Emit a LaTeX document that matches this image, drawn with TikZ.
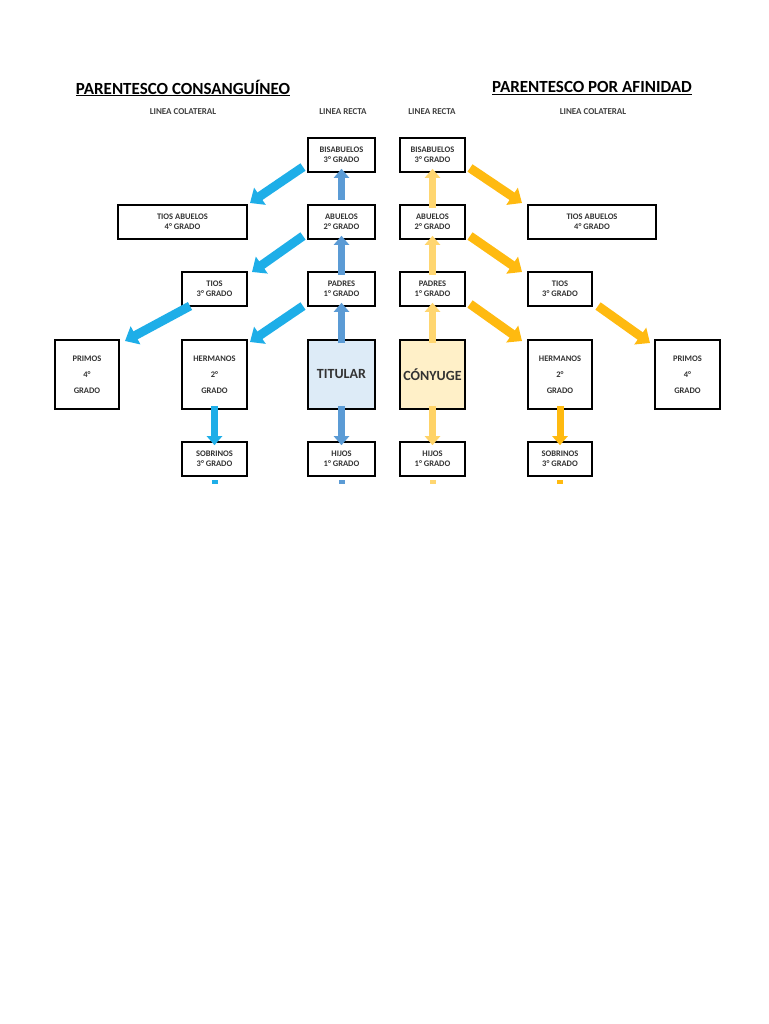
\documentclass[tikz,border=0pt]{standalone}
\usepackage{fontspec}
\setmainfont{Carlito}
\usetikzlibrary{arrows.meta}
\definecolor{cyanA}{HTML}{1EAEE8}
\definecolor{blueV}{HTML}{5B9BD5}
\definecolor{yelA}{HTML}{FFBA10}
\definecolor{yelV}{HTML}{FFD670}
\definecolor{titfill}{HTML}{DDEBF7}
\definecolor{confill}{HTML}{FFF0C8}
\begin{document}
\begin{tikzpicture}[x=1pt,y=-1pt,
  bx/.style={draw,line width=1.6pt,inner sep=0pt,align=center,font=\bfseries\fontsize{8.5}{10}\selectfont,text=black!80},
  darr/.style={line width=9pt,-{Triangle[length=12pt,width=20pt]}},
  varr/.style={line width=7pt,-{Triangle[length=9pt,width=15pt]}}]
\useasboundingbox (0,0) rectangle (768,1024);
\def\B(#1,#2,#3,#4,#5)#6{\node[bx,minimum width=#4-#2 pt,minimum height=#5-#3 pt] (#1) at ({(#2+#4)/2},{(#3+#5)/2}) {#6};}
% titles
\node[font=\bfseries\fontsize{17}{20}\selectfont] (t1) at (183,88) {\underline{PARENTESCO CONSANGUÍNEO}};
\node[font=\bfseries\fontsize{17}{20}\selectfont] (t2) at (592,88) {\underline{PARENTESCO POR AFINIDAD}};
\node[font=\bfseries\fontsize{9}{10}\selectfont,text=black!75] (s1) at (183,112) {LINEA COLATERAL};
\node[font=\bfseries\fontsize{9}{10}\selectfont,text=black!75] (s2) at (343,112) {LINEA RECTA};
\node[font=\bfseries\fontsize{9}{10}\selectfont,text=black!75] (s3) at (432,112) {LINEA RECTA};
\node[font=\bfseries\fontsize{9}{10}\selectfont,text=black!75] (s4) at (593,112) {LINEA COLATERAL};
% left
\B(lbis,308,138,375,172){BISABUELOS\\3° GRADO}
\B(labu,308,205,375,239){ABUELOS\\2° GRADO}
\B(lpad,308,272,375,306){PADRES\\1° GRADO}
\node[bx,fill=titfill,minimum width=67pt,minimum height=69pt,font=\bfseries\fontsize{14}{16}\selectfont] (tit) at (341.5,374.5) {TITULAR};
\B(lhij,308,442,375,476){HIJOS\\1° GRADO}
\B(ltab,118,205,247,239){TIOS ABUELOS\\4° GRADO}
\B(ltio,182,272,247,306){TIOS\\3° GRADO}
\B(lher,182,340,247,409){HERMANOS\\[6pt]2°\\[6pt]GRADO}
\B(lsob,182,442,247,476){SOBRINOS\\3° GRADO}
\B(lpri,55,340,119,409){PRIMOS\\[6pt]4°\\[6pt]GRADO}
% right
\B(rbis,400,138,465,172){BISABUELOS\\3° GRADO}
\B(rabu,400,205,465,239){ABUELOS\\2° GRADO}
\B(rpad,400,272,465,306){PADRES\\1° GRADO}
\node[bx,fill=confill,minimum width=65pt,minimum height=69pt,font=\bfseries\fontsize{14}{16}\selectfont] (con) at (432.5,374.5) {CÓNYUGE};
\B(rhij,400,442,465,476){HIJOS\\1° GRADO}
\B(rtab,528,205,656,239){TIOS ABUELOS\\4° GRADO}
\B(rtio,528,272,592,306){TIOS\\3° GRADO}
\B(rher,528,340,592,409){HERMANOS\\[6pt]2°\\[6pt]GRADO}
\B(rsob,528,442,592,476){SOBRINOS\\3° GRADO}
\B(rpri,655,340,720,409){PRIMOS\\[6pt]4°\\[6pt]GRADO}
% coordinates for arrows
\foreach \n/\x/\y in {a1/303/167,b1/250/203,a2/303/236,b2/252/272,a3/303/306,b3/250/342,a4/190/306,b4/125/341,
  c1/470/168,d1/522/203,c2/470/236,d2/522/272,c3/470/304,d3/522/341,c4/598/306,d4/650/343}
  \coordinate (\n) at (\x,\y);
\foreach \i in {1,2,3,4}{\draw[darr,cyanA] (a\i) -- (b\i); \draw[darr,yelA] (c\i) -- (d\i);}
% vertical
\draw[varr,blueV] (labu.north) ++(0,-4) coordinate (u1) -- ([yshift=4pt]lbis.south);
\draw[varr,blueV] ([yshift=-4pt]lpad.north) -- ([yshift=4pt]labu.south);
\draw[varr,blueV] ([yshift=-4pt]tit.north) -- ([yshift=4pt]lpad.south);
\draw[varr,blueV] ([yshift=4pt]tit.south) -- ([yshift=-4pt]lhij.north);
\draw[varr,cyanA] ([yshift=4pt]lher.south) -- ([yshift=-4pt]lsob.north);
\draw[varr,yelV] ([yshift=-4pt]rabu.north) -- ([yshift=4pt]rbis.south);
\draw[varr,yelV] ([yshift=-4pt]rpad.north) -- ([yshift=4pt]rabu.south);
\draw[varr,yelV] ([yshift=-4pt]con.north) -- ([yshift=4pt]rpad.south);
\draw[varr,yelV!90!yelA] ([yshift=4pt]con.south) -- ([yshift=-4pt]rhij.north);
\draw[varr,yelA] ([yshift=4pt]rher.south) -- ([yshift=-4pt]rsob.north);
% stubs
\foreach \x/\c in {214.5/cyanA,341.5/blueV,432.5/yelV,560/yelA}
  \fill[\c] (\x-3,480) rectangle (\x+3,484);
\end{tikzpicture}
\end{document}
